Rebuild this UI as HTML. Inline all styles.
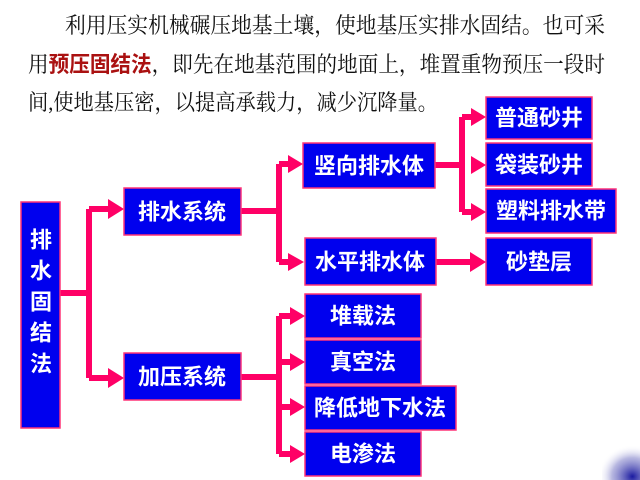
<!DOCTYPE html>
<html><head><meta charset="utf-8"><style>
html,body{margin:0;padding:0;background:#fff;width:640px;height:480px;overflow:hidden}
svg{display:block}
.p{font-family:"Liberation Serif","Noto Serif CJK SC",serif;font-size:22px;fill:#111}
.b{font-family:"Liberation Sans","Noto Sans CJK SC",sans-serif;font-size:22px;font-weight:bold;fill:#fff;text-anchor:middle;dominant-baseline:central}
rect.bx{fill:#0000ee;stroke:#ff3377;stroke-width:1.5}
.l{stroke:#ff0066;stroke-width:6;fill:none}
.a{fill:#ff0066}
</style></head><body>
<svg width="640" height="480" viewBox="0 0 640 480">
<defs><radialGradient id="g" cx="0.8" cy="0.9" r="0.9"><stop offset="0" stop-color="#1a1aa0"/><stop offset="0.6" stop-color="#8888cc" stop-opacity="0.6"/><stop offset="1" stop-color="#fff" stop-opacity="0"/></radialGradient></defs>
<rect x="602" y="445" width="38" height="35" fill="url(#g)"/>
<text class="p" x="65" y="33" textLength="540" lengthAdjust="spacingAndGlyphs">利用压实机械碾压地基土壤，使地基压实排水固结。也可采</text>
<text class="p" x="28" y="72" textLength="577" lengthAdjust="spacingAndGlyphs">用<tspan fill="#aa1111" font-weight="bold" font-family="Liberation Sans,Noto Sans CJK SC,sans-serif">预压固结法</tspan>，即先在地基范围的地面上，堆置重物预压一段时</text>
<text class="p" x="28" y="110" textLength="410" lengthAdjust="spacingAndGlyphs">间,使地基压密，以提高承载力，减少沉降量。</text>

<path class="l" d="M60 293H89 M89 209V378 M89 209H110 M89 378H110"/>
<polygon class="a" points="108,199 124,209 108,219"/>
<polygon class="a" points="108,368 124,378 108,388"/>

<path class="l" d="M240 211H279 M279 164V262 M279 164H290 M279 262H290"/>
<polygon class="a" points="288,155 303,164 288,173"/>
<polygon class="a" points="288,253 304,262 288,271"/>

<path class="l" d="M435 165H462 M462 117V212 M462 117H472 M462 212H472"/>
<polygon class="a" points="471,108 486,117 471,126"/>
<polygon class="a" points="471,156 486,165 471,174"/>
<polygon class="a" points="471,203 486,212 471,221"/>

<path class="l" d="M436 262H472"/>
<polygon class="a" points="470,252 486,262 470,272"/>

<path class="l" d="M240 377H279 M279 316V454 M279 316H292 M279 362H292 M279 407H292 M279 454H292"/>
<polygon class="a" points="290,307 305,316 290,325"/>
<polygon class="a" points="290,353 305,362 290,371"/>
<polygon class="a" points="290,398 305,407 290,416"/>
<polygon class="a" points="290,445 305,454 290,463"/>

<rect class="bx" x="21" y="202" width="39" height="226"/>
<text class="b" x="41" y="240">排</text><text class="b" x="41" y="271">水</text><text class="b" x="41" y="302">固</text><text class="b" x="41" y="333">结</text><text class="b" x="41" y="364">法</text>

<rect class="bx" x="124" y="188" width="117" height="47"/><text class="b" x="182" y="212">排水系统</text>
<rect class="bx" x="124" y="353" width="117" height="47"/><text class="b" x="182" y="377">加压系统</text>

<rect class="bx" x="303" y="143" width="132" height="45"/><text class="b" x="369" y="166">竖向排水体</text>
<rect class="bx" x="305" y="238" width="131" height="47"/><text class="b" x="370" y="262">水平排水体</text>

<rect class="bx" x="486" y="97" width="106" height="42"/><text class="b" x="539" y="118">普通砂井</text>
<rect class="bx" x="486" y="143" width="106" height="43"/><text class="b" x="539" y="165">袋装砂井</text>
<rect class="bx" x="486" y="189" width="130" height="44"/><text class="b" x="551" y="211">塑料排水带</text>
<rect class="bx" x="486" y="238" width="106" height="47"/><text class="b" x="539" y="262">砂垫层</text>

<rect class="bx" x="305" y="294" width="116" height="44"/><text class="b" x="363" y="316">堆载法</text>
<rect class="bx" x="305" y="340" width="116" height="44"/><text class="b" x="363" y="362">真空法</text>
<rect class="bx" x="305" y="386" width="151" height="44"/><text class="b" x="380" y="408">降低地下水法</text>
<rect class="bx" x="305" y="432" width="116" height="44"/><text class="b" x="363" y="454">电渗法</text>
</svg>
</body></html>
